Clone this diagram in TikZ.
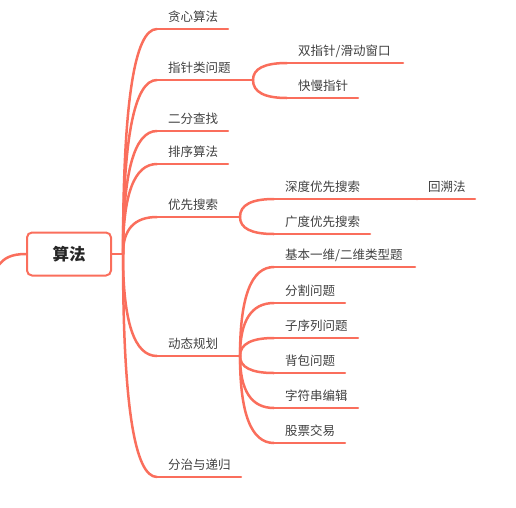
\documentclass[tikz,border=0pt]{standalone}
\usepackage{fontspec}
\newfontfamily\cjk{Noto Sans CJK SC}
\usetikzlibrary{calc}
\definecolor{coral}{RGB}{250,110,92}
\definecolor{txt}{RGB}{64,64,64}
\tikzset{
  branch/.style={draw=coral, line width=2.5pt, line cap=round},
  topic/.style={anchor=south west, inner xsep=11pt, inner ysep=5pt, text height=10pt, text depth=2pt,
    font=\cjk\fontsize{12.5}{14}\selectfont, text=txt},
  rootbox/.style={draw=coral, line width=2pt, rounded corners=5pt, fill=white,
    minimum width=84pt, minimum height=43pt, font=\cjk\bfseries\fontsize{16.5}{18}\selectfont, text=black!85}
}
\newcommand\topic[5]{%
  \node[topic] (#1) at (#2,#3) {#5};
  \draw[branch] (#1.south west) -- ++(#4,0) coordinate (#1e);
}
\newcommand\conn[2]{%
  \draw[branch] (#1) .. controls ($(#1)!0.667!(#1 |- #2.south west)$) and ($(#2.south west)!0.667!(#1 |- #2.south west)$) .. (#2.south west);
}
\begin{document}
\begin{tikzpicture}[x=1pt,y=-1pt]
\useasboundingbox (0,0) rectangle (516,507);
% root
\coordinate (lft) at (-2,266);
\coordinate (j) at (123,254);
\node[rootbox] (root) at (69,254) {算法};
\draw[branch] (root.west) .. controls +(-15,0) and +(6,-8) .. (lft);
\draw[branch] (root.east) -- (j);
% level 1
\topic{g1}{157}{29}{71}{贪心算法}
\topic{g2}{157}{80}{96}{指针类问题}
\topic{g3}{157}{131}{71}{二分查找}
\topic{g4}{157}{164}{71}{排序算法}
\topic{g5}{157}{217}{83}{优先搜索}
\topic{g6}{157}{356}{83}{动态规划}
\topic{g7}{157}{477}{84}{分治与递归}
\foreach \n in {g1,g2,g3,g4,g5,g6,g7} {\conn{j}{\n}}
% pointer children
\topic{p1}{287}{63}{116}{双指针/滑动窗口}
\topic{p2}{287}{98}{71}{快慢指针}
\conn{g2e}{p1}
\conn{g2e}{p2}
% search children
\topic{s1}{274}{199}{143}{深度优先搜索}
\topic{s2}{274}{234}{96}{广度优先搜索}
\conn{g5e}{s1}
\conn{g5e}{s2}
\topic{b1}{417}{199}{58}{回溯法}
\draw[branch] (s1e) -- (b1.south west);
% dp children
\topic{d1}{274}{267}{141}{基本一维/二维类型题}
\topic{d2}{274}{303}{71}{分割问题}
\topic{d3}{274}{338}{84}{子序列问题}
\topic{d4}{274}{373}{71}{背包问题}
\topic{d5}{274}{408}{84}{字符串编辑}
\topic{d6}{274}{443}{71}{股票交易}
\foreach \n in {d1,d2,d3,d4,d5,d6} {\conn{g6e}{\n}}
\end{tikzpicture}
\end{document}
